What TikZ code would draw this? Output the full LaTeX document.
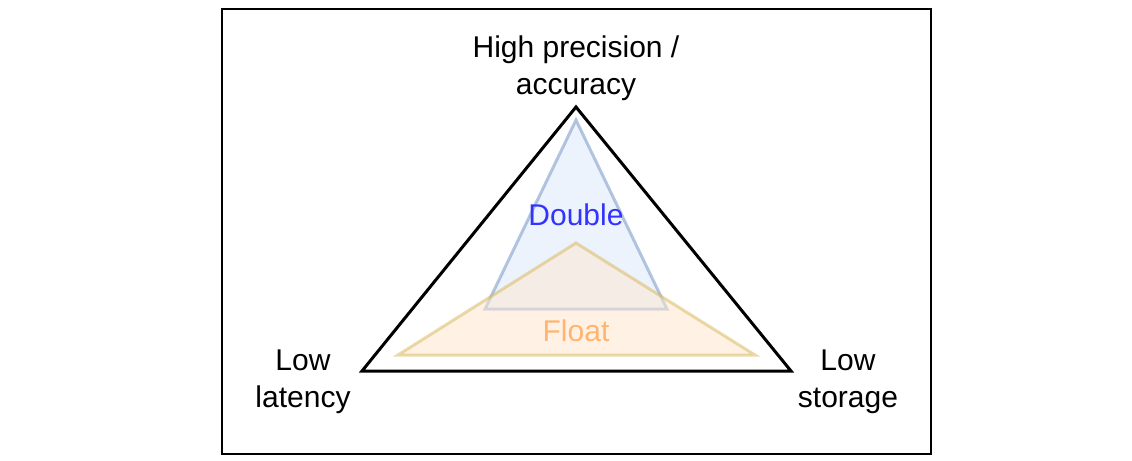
\documentclass[tikz,border=0pt]{standalone}
\usepackage{fontspec}
\setmainfont{Liberation Sans}
\definecolor{dblfill}{HTML}{DAE8FC}
\definecolor{dblline}{HTML}{6C8EBF}
\definecolor{fltfill}{HTML}{FFE6CC}
\definecolor{fltline}{HTML}{D6B656}
\definecolor{dbltext}{HTML}{3333FF}
\definecolor{flttext}{HTML}{FFB570}
\tikzset{
 corner/.style={align=center,font=\fontsize{15}{18.5}\selectfont},
 tlabel/.style={font=\fontsize{15}{18}\selectfont}
}
\begin{document}
\begin{tikzpicture}[x=0.5pt,y=-0.5pt]
 \useasboundingbox (0,0) rectangle (1132,461);
 \draw [line width=0.75pt](222,9) rectangle (931,454);
 \draw [line width=1.5pt,line join=miter](576,107)--(791,371)--(362,371)--cycle;
 \draw [line width=1.5pt,opacity=0.5,draw=dblline,fill=dblfill](576,120)--(667,309)--(485,309)--cycle;
 \draw [line width=1.5pt,opacity=0.5,draw=fltline,fill=fltfill](576,243)--(755,355)--(398,355)--cycle;
 \node [corner] (top) at (576,68.5) {High precision /\\accuracy};
 \node [corner] (left) at (303,382) {Low\\latency};
 \node [corner] (right) at (848,382) {Low\\storage};
 \node [tlabel,text=dbltext] (dbl) at (576,215) {Double};
 \node [tlabel,text=flttext] (flt) at (576,331) {Float};
\end{tikzpicture}
\end{document}
